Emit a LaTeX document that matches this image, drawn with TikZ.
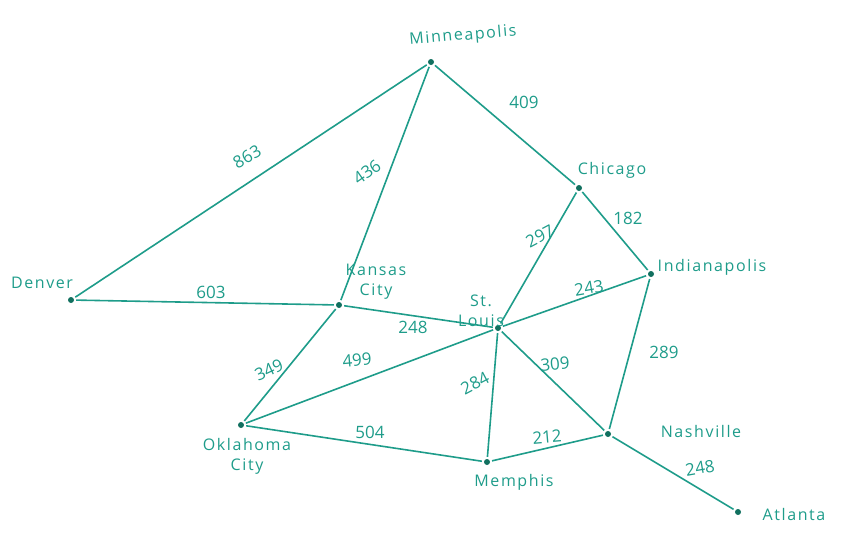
\documentclass[tikz,border=0pt]{standalone}
\usepackage{fontspec}
\setmainfont[LetterSpace=10]{Open Sans}
\newfontfamily\numfont{Open Sans}
\definecolor{ink}{HTML}{1E9C8A}
\definecolor{dotink}{HTML}{11705F}
\begin{document}
\begin{tikzpicture}[x=1pt,y=-1pt,
  city/.style={circle,fill=dotink,inner sep=0pt,minimum size=6pt},
  citylabel/.style={text=ink,font=\fontsize{16}{20}\selectfont,align=center,inner sep=0pt},
  wt/.style={text=ink,font=\numfont\fontsize{17}{18}\selectfont,inner sep=0pt},
  road/.style={draw=ink,line width=1.6pt,shorten <=2pt,shorten >=2pt}]
\useasboundingbox (0,0) rectangle (850,539);
% cities
\node[city] (min) at (431,62) {};
\node[city] (chi) at (579,188) {};
\node[city] (ind) at (651,274) {};
\node[city] (den) at (71,300) {};
\node[city] (kc)  at (339,305) {};
\node[city] (stl) at (498,328) {};
\node[city] (okc) at (241,425) {};
\node[city] (mem) at (487,462) {};
\node[city] (nas) at (608,434) {};
\node[city] (atl) at (738,512) {};
% names
\node[citylabel,rotate=5] (tmin) at (463,36) {Minneapolis};
\node[citylabel] (tchi) at (612,170) {Chicago};
\node[citylabel] (tind) at (712,267) {Indianapolis};
\node[citylabel] (tden) at (42,283) {Denver};
\node[citylabel] (tkc)  at (376,282) {Kansas\\City};
\node[citylabel] (tstl) at (481,311) {St.\\Louis};
\node[citylabel] (tokc) at (247,456) {Oklahoma\\City};
\node[citylabel] (tmem) at (514,482) {Memphis};
\node[citylabel] (tnas) at (701,431) {Nashville};
\node[citylabel] (tatl) at (794,514) {Atlanta};
% roads
\draw[road] (den) -- (min);
\draw[road] (kc) -- (min);
\draw[road] (min) -- (chi);
\draw[road] (chi) -- (stl);
\draw[road] (chi) -- (ind);
\draw[road] (den) -- (kc);
\draw[road] (kc) -- (stl);
\draw[road] (stl) -- (ind);
\draw[road] (ind) -- (nas);
\draw[road] (kc) -- (okc);
\draw[road] (okc) -- (stl);
\draw[road] (stl) -- (mem);
\draw[road] (stl) -- (nas);
\draw[road] (okc) -- (mem);
\draw[road] (mem) -- (nas);
\draw[road] (nas) -- (atl);
% weights
\node[wt,rotate=30] (w1) at (247,157) {863};
\node[wt,rotate=35] (w2) at (367,172) {436};
\node[wt] (w3) at (524,102) {409};
\node[wt,rotate=28] (w4) at (540,236) {297};
\node[wt] (w5) at (628,218) {182};
\node[wt] (w6) at (211,292) {603};
\node[wt] (w7) at (413,327) {248};
\node[wt,rotate=10] (w8) at (589,288) {243};
\node[wt] (w9) at (664,352) {289};
\node[wt,rotate=25] (w10) at (269,370) {349};
\node[wt,rotate=5] (w11) at (357,360) {499};
\node[wt,rotate=28] (w12) at (475,383) {284};
\node[wt,rotate=5] (w13) at (555,364) {309};
\node[wt] (w14) at (370,432) {504};
\node[wt,rotate=5] (w15) at (547,437) {212};
\node[wt,rotate=10] (w16) at (700,468) {248};
\end{tikzpicture}
\end{document}
